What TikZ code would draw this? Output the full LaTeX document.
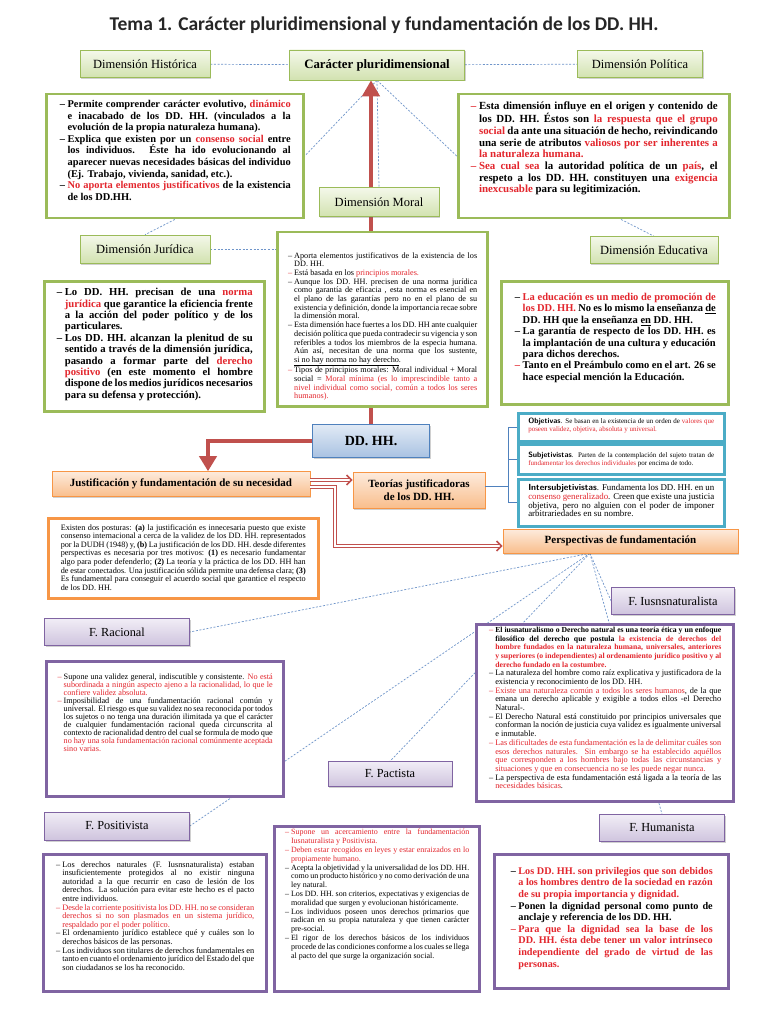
\documentclass[tikz,border=0pt]{standalone}
\usepackage{fontspec}
\setmainfont{Liberation Serif}
\newfontfamily\titlefont{Carlito}
\usetikzlibrary{positioning,arrows.meta,calc,shadows}
\definecolor{grnline}{HTML}{9BBB59}
\definecolor{grntop}{HTML}{F4F8EA}
\definecolor{grnbot}{HTML}{D2E2B0}
\definecolor{purline}{HTML}{8064A2}
\definecolor{purtop}{HTML}{F1EDF6}
\definecolor{purbot}{HTML}{CFC4DE}
\definecolor{orline}{HTML}{F79646}
\definecolor{ortop}{HTML}{FDEBDD}
\definecolor{orbot}{HTML}{F9BE8C}
\definecolor{blline}{HTML}{4F81BD}
\definecolor{bltop}{HTML}{E1EAF5}
\definecolor{blbot}{HTML}{A9C2E2}
\definecolor{tealline}{HTML}{4BACC6}
\definecolor{arrred}{HTML}{C0504D}
\definecolor{txtred}{HTML}{E3262D}
\definecolor{dashblue}{HTML}{6F95CA}
\pgfdeclarelayer{background}
\pgfsetlayers{background,main}
\newcommand\rd[1]{\textcolor{txtred}{#1}}
\newcommand\ritem{\item[\rd{–}]}
\newcommand\boxtxt[3]{\parbox[c][#1][t]{#2}{\emergencystretch=3em \hyphenpenalty=10000 \exhyphenpenalty=10000 #3}}
\newenvironment{dlist}{\begin{list}{–}{\setlength\leftmargin{0.85em}\setlength\labelwidth{0.6em}\setlength\labelsep{0.25em}\setlength\itemsep{0pt}\setlength\topsep{0pt}\setlength\parsep{0pt}\setlength\partopsep{0pt}}}{\end{list}}

\begin{document}
\begin{tikzpicture}[x=1pt, y=-1pt,
    shd/.style={drop shadow={shadow xshift=1.2pt, shadow yshift=-1.5pt, opacity=0.3, fill=black!60}},
    lbl/.style={rectangle, draw=grnline, line width=0.6pt, top color=grntop, bottom color=grnbot, shd, font=\fontsize{12.5}{14}\selectfont, inner sep=0pt},
    plbl/.style={rectangle, draw=purline, line width=0.6pt, top color=purtop, bottom color=purbot, shd, font=\fontsize{12.3}{14}\selectfont, inner sep=0pt},
    olbl/.style={rectangle, draw=orline, line width=0.6pt, top color=ortop, bottom color=orbot, shd, font=\bfseries\fontsize{11}{12.5}\selectfont, align=center, inner sep=0pt},
    gbox/.style={rectangle, draw=grnline, line width=2.5pt, fill=white, anchor=north west, inner ysep=6pt},
    pbox/.style={rectangle, draw=purline, line width=2.5pt, fill=white, anchor=north west, inner ysep=6pt},
    tbox/.style={rectangle, draw=tealline, line width=2.5pt, fill=white, anchor=north west, inner xsep=10pt, inner ysep=4pt},
    dline/.style={draw=dashblue, line width=0.7pt, dash pattern=on 2pt off 1.6pt},
    redarrow/.style={draw=arrred, line width=4.5pt, -{Triangle[width=17pt,length=16pt]}},
    dblarrow/.style={draw=arrred, line width=1pt, double=white, double distance=2pt, -{Straight Barb[width=10pt,length=5pt,line width=1.6pt]}}
]
\useasboundingbox (0,0) rectangle (768,1024);

% title
\node[font=\titlefont\bfseries\fontsize{19.5}{21}\selectfont, text=black!85] (title) at (384,25) {Tema 1. Carácter pluridimensional y fundamentación de los DD. HH.};

% dimensiones
\node[lbl, minimum width=130pt, minimum height=27pt] (hist) at (145,64) {Dimensión Histórica};
\node[lbl, minimum width=175pt, minimum height=30pt, font=\bfseries\fontsize{12.8}{15}\selectfont] (carac) at (377,65) {Carácter pluridimensional};
\node[lbl, minimum width=125pt, minimum height=27pt] (pol) at (640,64) {Dimensión Política};
\node[lbl, minimum width=120pt, minimum height=29pt] (moral) at (379,202) {Dimensión Moral};
\node[lbl, minimum width=130pt, minimum height=28pt] (jur) at (145,249) {Dimensión Jurídica};
\node[lbl, minimum width=128pt, minimum height=27pt] (edu) at (654,250) {Dimensión Educativa};

% texto de las dimensiones
\node[gbox, inner xsep=12.5pt, font=\bfseries\fontsize{10.4}{11.6}\selectfont] (histbox) at (45,93) {\boxtxt{112pt}{232pt}{\begin{dlist}
\item Permite comprender carácter evolutivo, \rd{dinámico} e inacabado de los DD. HH. (vinculados a la evolución de la propia naturaleza humana).
\item Explica que existen por un \rd{consenso social} entre los individuos. Éste ha ido evolucionando al aparecer nuevas necesidades básicas del individuo (Ej. Trabajo, vivienda, sanidad, etc.).
\item \rd{No aporta elementos justificativos} de la existencia de los DD.HH.
\end{dlist}}};

\node[gbox, inner xsep=11.5pt, font=\bfseries\fontsize{10.9}{11.7}\selectfont] (polbox) at (457,93) {\boxtxt{112pt}{248pt}{\vspace*{2pt}\begin{dlist}
\ritem Esta dimensión influye en el origen y contenido de los DD. HH. Éstos son \rd{la respuesta que el grupo social} da ante una situación de hecho, reivindicando una serie de atributos \rd{valiosos por ser inherentes a la naturaleza humana.}
\ritem \rd{Sea cual sea} la autoridad política de un \rd{país}, el respeto a los DD. HH. constituyen una \rd{exigencia inexcusable} para su legitimización.
\end{dlist}}};

\node[gbox, inner xsep=10pt, font=\fontsize{8.2}{8.7}\selectfont] (moralbox) at (276,231) {\boxtxt{162pt}{190pt}{\vspace*{14pt}\begin{dlist}
\item Aporta elementos justificativos de la existencia de los DD. HH.
\ritem Está basada en los \rd{principios morales.}
\item Aunque los DD. HH. precisen de una norma jurídica como garantía de eficacia , esta norma es esencial en el plano de las garantías pero no en el plano de su existencia y definición, donde la importancia recae sobre la dimensión moral.
\item Esta dimensión hace fuertes a los DD. HH ante cualquier decisión política que pueda contradecir su vigencia y son referibles a todos los miembros de la especia humana. Aún así, necesitan de una norma que los sustente, \underline{si no hay norma no hay derecho}.
\ritem Tipos de principios morales: Moral individual + Moral social = \rd{Moral mínima (es lo imprescindible tanto a nivel individual como social, común a todos los seres humanos).}
\end{dlist}}};

\node[gbox, inner xsep=11.5pt, font=\bfseries\fontsize{10.7}{11.4}\selectfont] (jurbox) at (43,280) {\boxtxt{118pt}{197pt}{\vspace*{1pt}\begin{dlist}
\item Lo DD. HH. precisan de una \rd{norma jurídica} que garantice la eficiencia frente a la acción del poder político y de los particulares.
\item Los DD. HH. alcanzan la plenitud de su sentido a través de la dimensión jurídica, pasando a formar parte del \rd{derecho positivo} (en este momento el hombre dispone de los medios jurídicos necesarios para su defensa y protección).
\end{dlist}}};

\node[gbox, inner xsep=12.5pt, font=\bfseries\fontsize{10.5}{11.4}\selectfont] (edubox) at (500,280) {\boxtxt{111pt}{202pt}{\vspace*{6pt}\begin{dlist}
\item \rd{La educación es un medio de promoción de los DD. HH.} No es lo mismo la enseñanza \underline{de} DD. HH que la enseñanza \underline{en} DD. HH.
\item La garantía de respecto de los DD. HH. es la implantación de una cultura y educación para dichos derechos.
\ritem Tanto en el Preámbulo como en el art. 26 se hace especial mención la Educación.
\end{dlist}}};

% DD. HH. y justificacion
\node[rectangle, draw=blline, line width=0.6pt, top color=bltop, bottom color=blbot, shd, minimum width=117pt, minimum height=33pt, font=\bfseries\fontsize{14}{16}\selectfont] (ddhh) at (371,441) {DD. HH.};
\node[olbl, minimum width=258pt, minimum height=25pt] (just) at (181,484) {Justificación y fundamentación de su necesidad};
\node[olbl, minimum width=132pt, minimum height=36pt] (teor) at (419,490) {Teorías justificadoras\\de los DD. HH.};
\node[rectangle, draw=orline, line width=2.5pt, fill=white, anchor=north west, inner xsep=12.5pt, inner ysep=5pt, font=\fontsize{8.2}{8.6}\selectfont] (postbox) at (47,517) {\boxtxt{70pt}{245pt}{\vspace*{1pt}Existen dos posturas: \textbf{(a)} la justificación es innecesaria puesto que existe consenso internacional a cerca de la validez de los DD. HH. representados por la DUDH (1948) y, \textbf{(b)} La justificación de los DD. HH. desde diferentes perspectivas es necesaria por tres motivos: \textbf{(1)} es necesario fundamentar algo para poder defenderlo; \textbf{(2)} La teoría y la práctica de los DD. HH han de estar conectados. Una justificación sólida permite una defensa clara; \textbf{(3)} Es fundamental para conseguir el acuerdo social que garantice el respecto de los DD. HH.}};

% teorias
\node[tbox, font=\fontsize{7}{7.5}\selectfont] (obj) at (517,412) {\boxtxt{20pt}{186pt}{\vspace*{1pt}{\sffamily\bfseries\fontsize{7.6}{8}\selectfont Objetivas}. Se basan en la existencia de un orden de \rd{valores que poseen validez, objetiva, absoluta y universal.}}};
\node[tbox, font=\fontsize{7}{7.7}\selectfont] (subj) at (517,443) {\boxtxt{22pt}{186pt}{\vspace*{4pt}{\sffamily\bfseries\fontsize{7.6}{8}\selectfont Subjetivistas}. Parten de la contemplación del sujeto tratan de \rd{fundamentar los derechos individuales} por encima de todo.}};
\node[tbox, font=\fontsize{8.9}{8.8}\selectfont] (inter) at (517,478) {\boxtxt{39pt}{186pt}{\vspace*{1pt}{\sffamily\bfseries Intersubjetivistas}. Fundamenta los DD. HH. en un \rd{consenso generalizado}. Creen que existe una justicia objetiva, pero no alguien con el poder de imponer arbitrariedades en su nombre.}};
\node[olbl, minimum width=235pt, minimum height=24pt] (persp) at (620.5,541) {Perspectivas de fundamentación};

% fundamentaciones
\node[plbl, minimum width=145pt, minimum height=27pt] (racional) at (117,632) {F. Racional};
\node[plbl, minimum width=123pt, minimum height=27pt] (iusnat) at (673,601) {F. Iusnsnaturalista};
\node[plbl, minimum width=124pt, minimum height=25pt] (pactista) at (390,774) {F. Pactista};
\node[plbl, minimum width=145pt, minimum height=28pt] (positiv) at (117,826) {F. Positivista};
\node[plbl, minimum width=125pt, minimum height=27pt] (human) at (662,828) {F. Humanista};

\node[pbox, inner xsep=10.5pt, font=\fontsize{8.2}{7.95}\selectfont] (racbox) at (45,660) {\boxtxt{123pt}{216pt}{\vspace*{7pt}\begin{dlist}
\ritem Supone una validez general, indiscutible y consistente. \rd{No está subordinada a ningún aspecto ajeno a la racionalidad, lo que le confiere validez absoluta.}
\ritem Imposibilidad de una fundamentación racional común y universal. El riesgo es que su validez no sea reconocida por todos los sujetos o no tenga una duración ilimitada ya que el carácter de cualquier fundamentación racional queda circunscrita al contexto de racionalidad dentro del cual se formula de modo que \rd{no hay una sola fundamentación racional comúnmente aceptada sino varias.}
\end{dlist}}};

\node[pbox, inner xsep=12pt, inner ysep=3pt, font=\fontsize{8.3}{8.7}\selectfont] (iusbox) at (475,623) {\boxtxt{171pt}{233pt}{\begin{dlist}
\ritem {\bfseries\fontsize{7.7}{8.6}\selectfont El iusnaturalismo o Derecho natural es una teoría ética y un enfoque filosófico del derecho que postula \rd{la existencia de derechos del hombre fundados en la naturaleza humana, universales, anteriores y superiores (o independientes) al ordenamiento jurídico positivo y al derecho fundado en la costumbre.}\par}
\item La naturaleza del hombre como raíz explicativa y justificadora de la existencia y reconocimiento de los DD. HH.
\ritem \rd{Existe una naturaleza común a todos los seres humanos}, de la que emana un derecho aplicable y exigible a todos ellos -el Derecho Natural-.
\item El Derecho Natural está constituido por principios universales que conforman la noción de justicia cuya validez es igualmente universal e inmutable.
\ritem \rd{Las dificultades de esta fundamentación es la de delimitar cuáles son esos derechos naturales. Sin embargo se ha establecido aquéllos que corresponden a los hombres bajo todas las circunstancias y situaciones y que en consecuencia no se les puede negar nunca.}
\item La perspectiva de esta fundamentación está ligada a la teoría de las \rd{necesidades básicas}.
\end{dlist}}};

\node[pbox, inner xsep=12pt, font=\fontsize{8.3}{8.6}\selectfont] (posbox) at (42,853) {\boxtxt{125pt}{199pt}{\vspace*{1pt}\begin{dlist}
\item Los derechos naturales (F. Iusnsnaturalista) estaban insuficientemente protegidos al no existir ninguna autoridad a la que recurrir en caso de lesión de los derechos. La solución para evitar este hecho es el pacto entre individuos.
\ritem \rd{Desde la corriente positivista los DD. HH. no se consideran derechos si no son plasmados en un sistema jurídico, respaldado por el poder político.}
\item El ordenamiento jurídico establece qué y cuáles son lo derechos básicos de las personas.
\item Los individuos son titulares de derechos fundamentales en tanto en cuanto el ordenamiento jurídico del Estado del que son ciudadanos se los ha reconocido.
\end{dlist}}};

\node[pbox, inner xsep=10pt, inner ysep=3pt, font=\fontsize{8}{8.8}\selectfont] (pacbox) at (273,825) {\boxtxt{159pt}{185pt}{\begin{dlist}
\ritem \rd{Supone un acercamiento entre la fundamentación Iusnaturalista y Positivista.}
\ritem \rd{Deben estar recogidos en leyes y estar enraizados en lo propiamente humano.}
\item Acepta la objetividad y la universalidad de los DD. HH. como un producto histórico y no como derivación de una ley natural.
\item Los DD. HH. son criterios, expectativas y exigencias de moralidad que surgen y evolucionan históricamente.
\item Los individuos poseen unos derechos primarios que radican en su propia naturaleza y que tienen carácter pre-social.
\item El rigor de los derechos básicos de los individuos procede de las condiciones conforme a los cuales se llega al pacto del que surge la organización social.
\end{dlist}}};

\node[pbox, inner xsep=15.5pt, font=\bfseries\fontsize{10.2}{11.6}\selectfont] (humbox) at (493,853) {\boxtxt{122pt}{203pt}{\vspace*{7pt}\begin{dlist}
\item \rd{Los DD. HH. son privilegios que son debidos a los hombres dentro de la sociedad en razón de su propia importancia y dignidad.}
\item Ponen la dignidad personal como punto de anclaje y referencia de los DD. HH.
\ritem \rd{Para que la dignidad sea la base de los DD. HH. ésta debe tener un valor intrínseco independiente del grado de virtud de las personas.}
\end{dlist}}};

\begin{pgfonlayer}{background}
\fill[white] (0,0) rectangle (768,1024);
% conectores discontinuos
\draw[dline] (hist) -- (carac);
\draw[dline] (carac) -- (pol);
\draw[dline] (carac.south) -- (histbox.east);
\draw[dline] (carac.south) -- (polbox.west);
\draw[dline] (carac.south) -- (moral.north);
\draw[dline] (histbox.south) -- (jur.north);
\draw[dline] ($(polbox.south west)!0.6!(polbox.south east)$) -- (edu.north);
\draw[dline] (jur.east) -- (moralbox.west |- jur.east);
\coordinate (pa) at ($(persp.south west)!0.37!(persp.south east)$);
\draw[dline] (pa) -- (racional.east);
\draw[dline] (pa) -- (positiv.east);
\draw[dline] (pa) -- (pactista.north);
\draw[dline] (pa) -- (iusnat.west);
\draw[dline] (pa) -- (human.north);
% flecha roja
\draw[redarrow] (ddhh.north) -- (ddhh.north |- carac.south);
\end{pgfonlayer}

\draw[draw=arrred, line width=4.5pt, -{Triangle[width=17pt,length=15pt]}] (ddhh.west) -| ([xshift=27pt]just.north);
\draw[dblarrow] ([yshift=4pt]just.east) coordinate (ja) -- (ja -| teor.west);
\draw[dblarrow] ([yshift=-3pt]just.east) -- ++(25,0) |- ([yshift=-5pt]persp.west);
\coordinate (brk) at ($(obj.west)+(-9,0)$);
\draw[blline, line width=0.8pt] (obj.west) -| (brk |- inter.west) -- (inter.west);
\draw[blline, line width=0.8pt] (subj.west) -- (subj.west -| brk);
\draw[blline, line width=0.8pt] ([yshift=4pt]teor.east) -- ([yshift=4pt]teor.east -| brk);
\end{tikzpicture}
\end{document}
